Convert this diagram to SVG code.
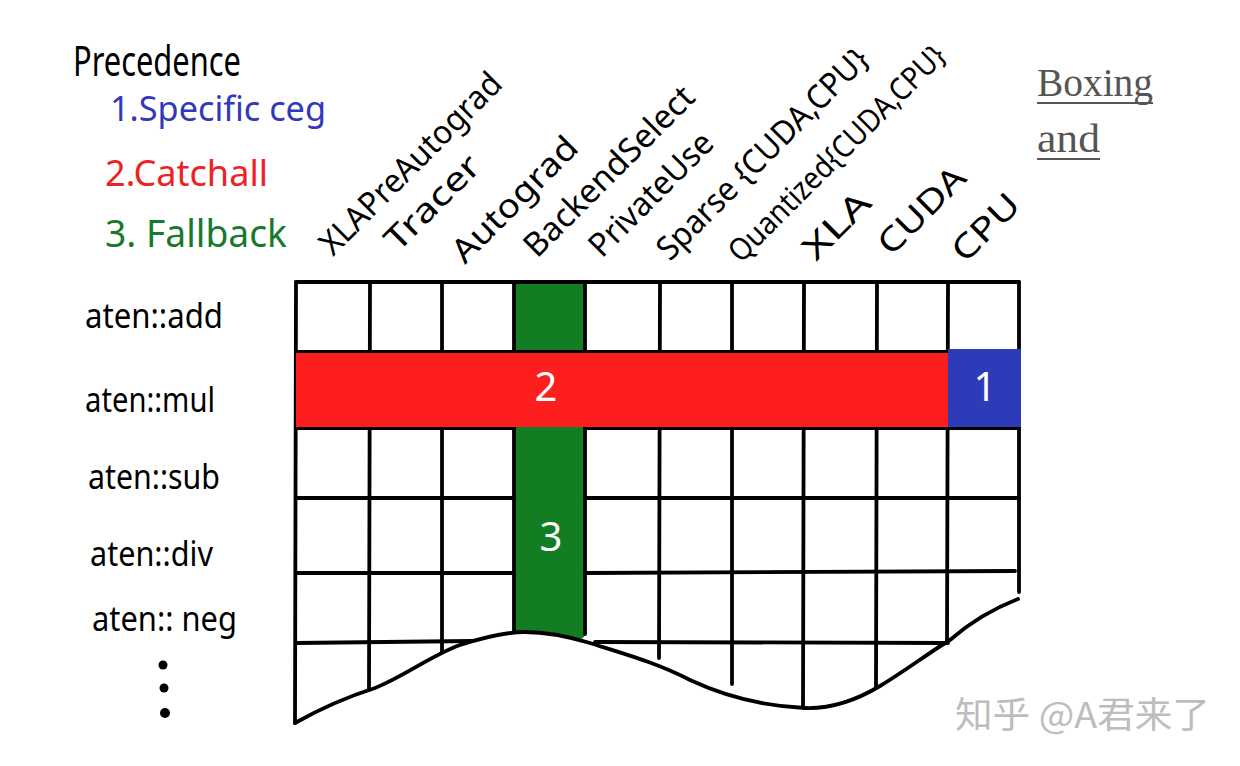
<svg xmlns="http://www.w3.org/2000/svg" width="1240" height="766" viewBox="0 0 1240 766">
<style>
.hand{font-family:"Noto Sans","DejaVu Sans",sans-serif;fill:#000;}
.col{font-size:33px;}
.row{font-size:35px;}
.grid{stroke:#000;stroke-width:3.8;stroke-linecap:round;fill:none;}
.num{font-family:"Noto Sans","DejaVu Sans",sans-serif;font-size:40px;fill:#fff;text-anchor:middle;}
.link{font-family:"Liberation Serif","DejaVu Serif",serif;font-size:40px;fill:#555;}
</style>
<rect width="1240" height="766" fill="#fff"/>

<g id="legend">
<text class="hand" x="73" y="76" font-size="42" textLength="168" lengthAdjust="spacingAndGlyphs">Precedence</text>
<text class="hand" x="110" y="121" font-size="35" style="fill:#3138bb" textLength="216" lengthAdjust="spacingAndGlyphs">1.Specific ceg</text>
<text class="hand" x="105" y="186" font-size="37" style="fill:#ee2222" textLength="163" lengthAdjust="spacingAndGlyphs">2.Catchall</text>
<text class="hand" x="105" y="247" font-size="39" style="fill:#167a2a" textLength="182" lengthAdjust="spacingAndGlyphs">3. Fallback</text>
</g>

<g id="column-labels">
<text class="hand col" transform="translate(333,257) rotate(-45)" textLength="242" lengthAdjust="spacingAndGlyphs">XLAPreAutograd</text>
<text class="hand col" transform="translate(398,253) rotate(-45)" textLength="120" lengthAdjust="spacingAndGlyphs">Tracer</text>
<text class="hand col" transform="translate(465,265) rotate(-45)" textLength="163" lengthAdjust="spacingAndGlyphs">Autograd</text>
<text class="hand col" transform="translate(537,259) rotate(-45)" textLength="226" lengthAdjust="spacingAndGlyphs">BackendSelect</text>
<text class="hand col" transform="translate(602,259) rotate(-45)" textLength="161" lengthAdjust="spacingAndGlyphs">PrivateUse</text>
<text class="hand col" transform="translate(670,262) rotate(-45)" textLength="284" lengthAdjust="spacingAndGlyphs">Sparse {CUDA,CPU}</text>
<text class="hand" font-size="31" transform="translate(741,264) rotate(-45)" textLength="292" lengthAdjust="spacingAndGlyphs">Quantized{CUDA,CPU}</text>
<text class="hand col" transform="translate(816,262) rotate(-45)" textLength="81" lengthAdjust="spacingAndGlyphs">XLA</text>
<text class="hand col" transform="translate(891,257) rotate(-45)" textLength="109" lengthAdjust="spacingAndGlyphs">CUDA</text>
<text class="hand col" transform="translate(965,264) rotate(-45)" textLength="81" lengthAdjust="spacingAndGlyphs">CPU</text>
</g>

<g id="row-labels">
<text class="hand row" x="85" y="328" textLength="138" lengthAdjust="spacingAndGlyphs">aten::add</text>
<text class="hand row" x="85" y="412" textLength="130" lengthAdjust="spacingAndGlyphs">aten::mul</text>
<text class="hand row" x="88" y="489" textLength="132" lengthAdjust="spacingAndGlyphs">aten::sub</text>
<text class="hand row" x="90" y="566" textLength="123" lengthAdjust="spacingAndGlyphs">aten::div</text>
<text class="hand row" x="92" y="631" textLength="145" lengthAdjust="spacingAndGlyphs">aten:: neg</text>
<circle cx="163" cy="665" r="4.5" fill="#000"/>
<circle cx="164" cy="688" r="4.5" fill="#000"/>
<circle cx="165" cy="713" r="5" fill="#000"/>
</g>

<g id="fallback-column">
<path d="M514,282 L585,282 L585,632 Q585,640 578,639 Q550,633 525,632 L514,632 Z" fill="#127d22"/>
</g>

<g id="grid">
<line class="grid" x1="296" y1="282" x2="1019" y2="282"/>
<line class="grid" x1="296" y1="352" x2="948" y2="352"/>
<line class="grid" x1="296" y1="428" x2="514" y2="428"/>
<line class="grid" x1="585" y1="428" x2="1019" y2="428"/>
<line class="grid" x1="296" y1="498" x2="514" y2="498"/>
<line class="grid" x1="585" y1="498" x2="1019" y2="498"/>
<line class="grid" x1="296" y1="573" x2="514" y2="573"/>
<line class="grid" x1="585" y1="573" x2="1015" y2="571"/>
<line class="grid" x1="296" y1="643" x2="472" y2="641"/>
<line class="grid" x1="595" y1="642" x2="948" y2="643"/>
<line class="grid" x1="296" y1="282" x2="295" y2="723"/>
<line class="grid" x1="370" y1="282" x2="369" y2="690"/>
<line class="grid" x1="442" y1="282" x2="442" y2="652"/>
<line class="grid" x1="514" y1="282" x2="514" y2="632"/>
<line class="grid" x1="585" y1="282" x2="585" y2="634"/>
<line class="grid" x1="660" y1="282" x2="659" y2="658"/>
<line class="grid" x1="732" y1="282" x2="732" y2="684"/>
<line class="grid" x1="804" y1="282" x2="803" y2="707"/>
<line class="grid" x1="877" y1="282" x2="876" y2="687"/>
<line class="grid" x1="948" y1="282" x2="947" y2="642"/>
<line class="grid" x1="1019" y1="282" x2="1019" y2="592"/>
<path class="grid" d="M295,723 C325,706 350,696 375,688 C405,676 430,656 460,645 C485,637 505,632 525,632 C550,632 570,637 590,643 C625,654 660,664 690,680 C720,694 760,706 805,708 C835,709 860,698 880,686 C905,671 930,652 950,640 C975,618 1000,606 1018,599"/>
</g>

<g id="catchall-row">
<rect x="296" y="353" width="652" height="74" fill="#fe1e1e"/>
<text class="num" x="546" y="401">2</text>
</g>

<g id="specific-cell">
<rect x="948" y="349" width="73" height="78" fill="#2d3bb8"/>
<text class="num" x="985" y="401">1</text>
</g>

<g id="fallback-label">
<text class="num" x="551" y="551" font-size="44">3</text>
</g>

<g id="side-links">
<text class="link" x="1037" y="96" textLength="116" lengthAdjust="spacingAndGlyphs">Boxing</text>
<line x1="1037" y1="103" x2="1153" y2="103" stroke="#555" stroke-width="2"/>
<text class="link" x="1037" y="152" textLength="63" lengthAdjust="spacingAndGlyphs">and</text>
<line x1="1037" y1="159" x2="1100" y2="159" stroke="#555" stroke-width="2"/>
</g>

<g id="watermark">
<text x="955" y="728" font-family="'Noto Sans CJK SC','Noto Sans',sans-serif" font-size="36" fill="#bdbdbd" textLength="255" lengthAdjust="spacingAndGlyphs">知乎 @A君来了</text>
</g>
</svg>
